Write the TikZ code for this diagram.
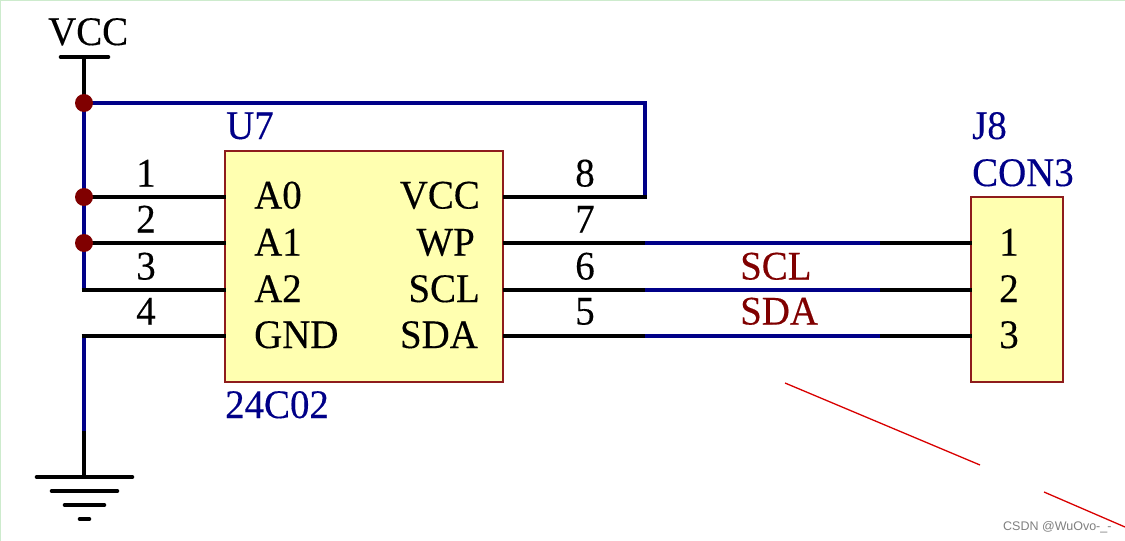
\documentclass[tikz,border=0pt]{standalone}
\usepackage{fontspec}
\setmainfont{Liberation Serif}
\newfontfamily\labfont[FakeStretch=0.96,RawFeature={embolden=0.3}]{Liberation Serif}
\newfontfamily\wmfont{Liberation Sans}
\definecolor{netblue}{HTML}{000088}
\definecolor{maroonx}{HTML}{800000}
\definecolor{boxfill}{HTML}{FFFFB0}
\definecolor{boxline}{HTML}{8E1C1C}
\definecolor{edgegreen}{HTML}{CDEBCD}
\tikzset{
  x=1pt,y=-1pt,
  chip/.style={draw=boxline,line width=1.5pt,fill=boxfill},
  pinw/.style={draw=black,line width=4.6pt},
  net/.style={draw=netblue,line width=4.6pt},
  gbar/.style={draw=black,line width=4.6pt,line cap=round},
  dotj/.style={circle,fill=maroonx,inner sep=0pt,minimum size=18pt},
  lab/.style={inner sep=0pt,font=\labfont\fontsize{40.5}{41}\selectfont},
  labl/.style={lab,anchor=base west},
  labr/.style={lab,anchor=base east},
  labc/.style={lab,anchor=base},
  refd/.style={labl,text=netblue},
  netl/.style={labl,text=maroonx},
  redl/.style={draw=red!85!black,line width=1.3pt},
}
\begin{document}
\begin{tikzpicture}
\useasboundingbox (0,0) rectangle (1125,541);
\fill[white] (0,0) rectangle (1125,541);
\fill[edgegreen] (0,0) rectangle (1125,1);
\fill[edgegreen] (0,0) rectangle (1,541);

% coordinates
\coordinate (vccTop) at (84,57);
\coordinate (jTop) at (84,103);
\coordinate (j1) at (84,197);
\coordinate (j2) at (84,243);
\coordinate (c3) at (84,290);
\coordinate (c4) at (84,336);
\coordinate (gblue) at (84,431);
\coordinate (gTop) at (84,477);
\coordinate (rTop) at (645,103);
\coordinate (r8) at (645,197);
\coordinate (ua0) at (226,197);
\coordinate (ua1) at (226,243);
\coordinate (ua2) at (226,290);
\coordinate (ua3) at (226,336);
\coordinate (ub8) at (503,197);
\coordinate (ub7) at (503,243);
\coordinate (ub6) at (503,290);
\coordinate (ub5) at (503,336);
\coordinate (m7) at (645,243);
\coordinate (m6) at (645,290);
\coordinate (m5) at (645,336);
\coordinate (n7) at (880,243);
\coordinate (n6) at (880,290);
\coordinate (n5) at (880,336);
\coordinate (c1) at (972,243);
\coordinate (c2) at (972,290);
\coordinate (c3r) at (972,336);

% boxes
\draw[chip] (225,151) rectangle (503,382);
\draw[chip] (971,197) rectangle (1063,382);

% blue nets
\draw[net,line join=miter] (j1) -- (jTop) -- (rTop) -- (r8);
\draw[net] (j1) -- (c3);
\draw[net] (c4) -- (gblue);
\draw[net] (m7) -- (n7);
\draw[net] (m6) -- (n6);
\draw[net] (m5) -- (n5);

% black pins
\draw[pinw] (vccTop) -- (jTop);
\draw[pinw] (gblue) -- (gTop);
\draw[pinw] (j1) -- (ua0);
\draw[pinw] (j2) -- (ua1);
\draw[pinw] ([xshift=-2.3pt]c3) -- (ua2);
\draw[pinw] ([xshift=-2.3pt]c4) -- (ua3);
\draw[pinw] (ub8) -- ([xshift=2.3pt]r8);
\draw[pinw] (ub7) -- (m7);
\draw[pinw] (ub6) -- (m6);
\draw[pinw] (ub5) -- (m5);
\draw[pinw] (n7) -- (c1);
\draw[pinw] (n6) -- (c2);
\draw[pinw] (n5) -- (c3r);

% power and ground symbols
\draw[gbar] (61,57) -- (108,57);
\draw[gbar] (37,477) -- (132,477);
\draw[gbar] (52,491) -- (117,491);
\draw[gbar] (65,505) -- (104,505);
\draw[gbar] (80,519) -- (89,519);

% junctions
\node[dotj] (d0) at (jTop) {};
\node[dotj] (d1) at (j1) {};
\node[dotj] (d2) at (j2) {};

% red lines
\draw[redl] (785,383) -- (980,465);
\draw[redl] (1044,492) -- (1125,527);

% text
\node[labl] (tvcc) at (48,45) {VCC};
\node[refd] (tu7) at (226,139) {U7};
\node[refd] (tpart) at (225,418) {24C02};
\node[refd] (tj8) at (972,139) {J8};
\node[refd] (tcon) at (972,186) {CON3};
\node[labc] (p1) at (146,186.5) {1};
\node[labc] (p2) at (146,232.5) {2};
\node[labc] (p3) at (146,279.5) {3};
\node[labc] (p4) at (146,324.5) {4};
\node[labc] (p8) at (585,186.5) {8};
\node[labc] (p7) at (585,232.5) {7};
\node[labc] (p6) at (585,279.5) {6};
\node[labc] (p5) at (585,324.5) {5};
\node[labl] (a0) at (254,208.5) {A0};
\node[labl] (a1) at (254,255.5) {A1};
\node[labl] (a2) at (254,302) {A2};
\node[labl] (gnd) at (254,348) {GND};
\node[labr] (vcc2) at (480,208.5) {VCC};
\node[labr] (wp) at (475,255.5) {WP};
\node[labr] (scl) at (480,302) {SCL};
\node[labr] (sda) at (478,348) {SDA};
\node[netl] (nscl) at (740,279.5) {SCL};
\node[netl] (nsda) at (740,324.5) {SDA};
\node[labc] (c1t) at (1009,255.5) {1};
\node[labc] (c2t) at (1009,302) {2};
\node[labc] (c3t) at (1009,348) {3};
\node[inner sep=0pt,anchor=base west,text=black!50,font=\wmfont\fontsize{12.5}{14}\selectfont] (wm) at (1003,530) {CSDN @WuOvo-\_-};
\end{tikzpicture}
\end{document}
